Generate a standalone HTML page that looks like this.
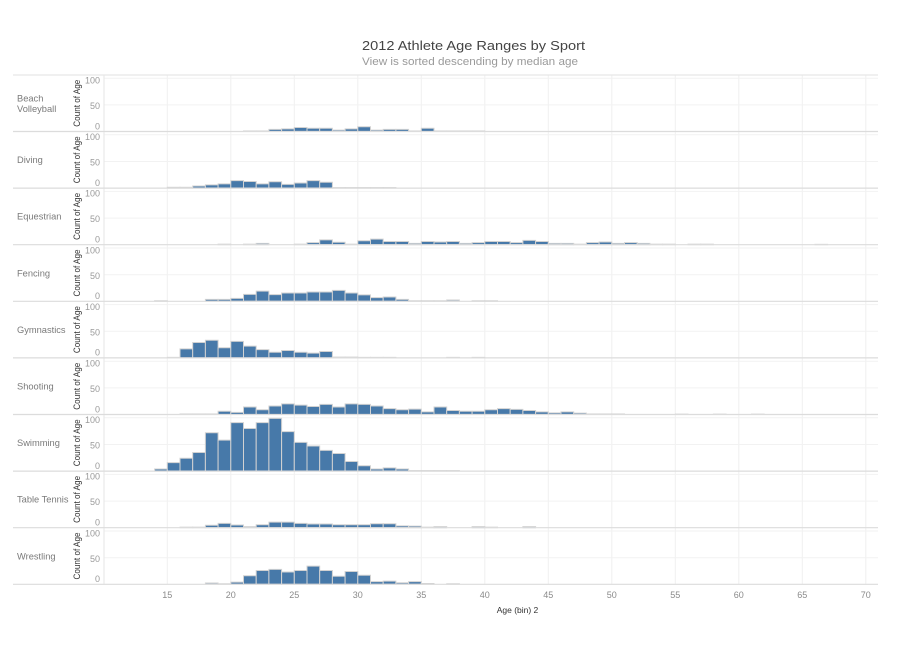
<!DOCTYPE html>
<html>
<head>
<meta charset="utf-8">
<style>
  html,body{margin:0;padding:0;background:#fff;}
  svg{display:block;}
  .b rect{fill:#4779a9;stroke:#d2d2d2;stroke-width:1;vector-effect:non-scaling-stroke;}
  text{font-family:"Liberation Sans",sans-serif;}
  .sp{font-size:9.3px;fill:#7a7a7a;}
  .ca{font-size:8.8px;fill:#333;}
  .yt{font-size:9px;fill:#9a9a9a;text-anchor:end;}
  .xt{font-size:9px;fill:#8a8a8a;text-anchor:middle;}
</style>
</head>
<body>
<svg width="900" height="650" viewBox="0 0 900 650" xmlns="http://www.w3.org/2000/svg">
  <rect width="900" height="650" fill="#fff"/>
  <!-- Title -->
  <text x="362" y="50" font-size="13" fill="#444" textLength="223" lengthAdjust="spacingAndGlyphs">2012 Athlete Age Ranges by Sport</text>
  <text x="362" y="65" font-size="11" fill="#9a9a9a" textLength="216" lengthAdjust="spacingAndGlyphs">View is sorted descending by median age</text>

  <!-- vertical gridlines -->
  <g stroke="#f0f0f0" stroke-width="1">
    <line x1="167.3" y1="75" x2="167.3" y2="584"/>
    <line x1="230.8" y1="75" x2="230.8" y2="584"/>
    <line x1="294.3" y1="75" x2="294.3" y2="584"/>
    <line x1="357.8" y1="75" x2="357.8" y2="584"/>
    <line x1="421.3" y1="75" x2="421.3" y2="584"/>
    <line x1="484.8" y1="75" x2="484.8" y2="584"/>
    <line x1="548.3" y1="75" x2="548.3" y2="584"/>
    <line x1="611.8" y1="75" x2="611.8" y2="584"/>
    <line x1="675.3" y1="75" x2="675.3" y2="584"/>
    <line x1="738.8" y1="75" x2="738.8" y2="584"/>
    <line x1="802.3" y1="75" x2="802.3" y2="584"/>
    <line x1="865.8" y1="75" x2="865.8" y2="584"/>
  </g>
  <!-- horizontal gridlines at 50 & 100 -->
  <g stroke="#f2f2f2" stroke-width="1">
    <line x1="104" x2="878" y1="104.9" y2="104.9"/><line x1="104" x2="878" y1="78.2" y2="78.2"/>
    <line x1="104" x2="878" y1="161.5" y2="161.5"/><line x1="104" x2="878" y1="134.8" y2="134.8"/>
    <line x1="104" x2="878" y1="218.1" y2="218.1"/><line x1="104" x2="878" y1="191.4" y2="191.4"/>
    <line x1="104" x2="878" y1="274.7" y2="274.7"/><line x1="104" x2="878" y1="248.0" y2="248.0"/>
    <line x1="104" x2="878" y1="331.3" y2="331.3"/><line x1="104" x2="878" y1="304.6" y2="304.6"/>
    <line x1="104" x2="878" y1="387.9" y2="387.9"/><line x1="104" x2="878" y1="361.2" y2="361.2"/>
    <line x1="104" x2="878" y1="444.5" y2="444.5"/><line x1="104" x2="878" y1="417.8" y2="417.8"/>
    <line x1="104" x2="878" y1="501.1" y2="501.1"/><line x1="104" x2="878" y1="474.4" y2="474.4"/>
    <line x1="104" x2="878" y1="557.7" y2="557.7"/><line x1="104" x2="878" y1="531.0" y2="531.0"/>
  </g>
  <!-- plot left border -->
  <line x1="104" y1="75" x2="104" y2="584" stroke="#e6e6e6" stroke-width="1"/>

  <!-- Bars -->
  <g class="b" transform="translate(-23.2,131.5) scale(12.7,-0.533)">
    <rect x="21" width="1" height="1"/><rect x="22" width="1" height="1"/><rect x="23" width="1" height="4"/><rect x="24" width="1" height="5"/><rect x="25" width="1" height="7.5"/><rect x="26" width="1" height="6"/><rect x="27" width="1" height="6"/><rect x="28" width="1" height="2.5"/><rect x="29" width="1" height="5"/><rect x="30" width="1" height="9"/><rect x="31" width="1" height="2.5"/><rect x="32" width="1" height="4"/><rect x="33" width="1" height="4"/><rect x="34" width="1" height="1"/><rect x="35" width="1" height="6"/><rect x="36" width="1" height="1"/><rect x="37" width="1" height="1"/><rect x="38" width="1" height="1"/><rect x="39" width="1" height="1"/>
  </g>
  <g class="b" transform="translate(-23.2,188.1) scale(12.7,-0.533)">
    <rect x="15" width="1" height="1.5"/><rect x="16" width="1" height="1.5"/><rect x="17" width="1" height="4"/><rect x="18" width="1" height="6"/><rect x="19" width="1" height="8"/><rect x="20" width="1" height="14"/><rect x="21" width="1" height="12.5"/><rect x="22" width="1" height="8"/><rect x="23" width="1" height="12"/><rect x="24" width="1" height="7"/><rect x="25" width="1" height="9.5"/><rect x="26" width="1" height="14"/><rect x="27" width="1" height="11"/><rect x="28" width="1" height="1"/><rect x="29" width="1" height="1"/><rect x="30" width="1" height="1"/><rect x="31" width="1" height="1"/><rect x="32" width="1" height="1"/>
  </g>
  <g class="b" transform="translate(-23.2,244.7) scale(12.7,-0.533)">
    <rect x="19" width="1" height="1"/><rect x="21" width="1" height="1"/><rect x="22" width="1" height="2.5"/><rect x="25" width="1" height="1"/><rect x="26" width="1" height="4"/><rect x="27" width="1" height="9"/><rect x="28" width="1" height="4.5"/><rect x="29" width="1" height="1"/><rect x="30" width="1" height="7.5"/><rect x="31" width="1" height="10.5"/><rect x="32" width="1" height="6"/><rect x="33" width="1" height="6"/><rect x="34" width="1" height="2.5"/><rect x="35" width="1" height="6"/><rect x="36" width="1" height="5"/><rect x="37" width="1" height="6"/><rect x="38" width="1" height="2.5"/><rect x="39" width="1" height="4"/><rect x="40" width="1" height="6"/><rect x="41" width="1" height="6"/><rect x="42" width="1" height="4"/><rect x="43" width="1" height="8"/><rect x="44" width="1" height="6"/><rect x="45" width="1" height="2.5"/><rect x="46" width="1" height="2.5"/><rect x="47" width="1" height="1"/><rect x="48" width="1" height="4"/><rect x="49" width="1" height="5"/><rect x="50" width="1" height="2.5"/><rect x="51" width="1" height="4"/><rect x="52" width="1" height="2.5"/><rect x="53" width="1" height="1"/><rect x="54" width="1" height="1"/><rect x="56" width="1" height="1"/><rect x="57" width="1" height="1"/><rect x="66" width="1" height="0.7"/>
  </g>
  <g class="b" transform="translate(-23.2,301.3) scale(12.7,-0.533)">
    <rect x="14" width="1" height="1"/><rect x="18" width="1" height="3.5"/><rect x="19" width="1" height="3.5"/><rect x="20" width="1" height="5.5"/><rect x="21" width="1" height="13"/><rect x="22" width="1" height="19"/><rect x="23" width="1" height="12.5"/><rect x="24" width="1" height="15.5"/><rect x="25" width="1" height="15.5"/><rect x="26" width="1" height="17.5"/><rect x="27" width="1" height="17.5"/><rect x="28" width="1" height="20.5"/><rect x="29" width="1" height="15.5"/><rect x="30" width="1" height="12"/><rect x="31" width="1" height="7"/><rect x="32" width="1" height="8"/><rect x="33" width="1" height="3.5"/><rect x="34" width="1" height="1"/><rect x="35" width="1" height="1"/><rect x="36" width="1" height="1"/><rect x="37" width="1" height="2.5"/><rect x="39" width="1" height="1"/><rect x="40" width="1" height="1"/>
  </g>
  <g class="b" transform="translate(-23.2,357.9) scale(12.7,-0.533)">
    <rect x="15" width="1" height="1"/><rect x="16" width="1" height="17"/><rect x="17" width="1" height="29"/><rect x="18" width="1" height="33"/><rect x="19" width="1" height="19"/><rect x="20" width="1" height="31"/><rect x="21" width="1" height="22"/><rect x="22" width="1" height="15.5"/><rect x="23" width="1" height="10.5"/><rect x="24" width="1" height="14"/><rect x="25" width="1" height="10.5"/><rect x="26" width="1" height="9"/><rect x="27" width="1" height="12"/><rect x="28" width="1" height="1.5"/><rect x="29" width="1" height="1.5"/><rect x="30" width="1" height="1"/><rect x="31" width="1" height="1"/><rect x="32" width="1" height="1"/><rect x="37" width="1" height="1"/><rect x="39" width="1" height="1"/>
  </g>
  <g class="b" transform="translate(-23.2,414.5) scale(12.7,-0.533)">
    <rect x="16" width="1" height="1"/><rect x="17" width="1" height="1"/><rect x="18" width="1" height="1"/><rect x="19" width="1" height="6"/><rect x="20" width="1" height="4"/><rect x="21" width="1" height="14"/><rect x="22" width="1" height="9"/><rect x="23" width="1" height="16"/><rect x="24" width="1" height="20"/><rect x="25" width="1" height="17.5"/><rect x="26" width="1" height="15"/><rect x="27" width="1" height="19"/><rect x="28" width="1" height="14"/><rect x="29" width="1" height="20"/><rect x="30" width="1" height="19"/><rect x="31" width="1" height="16"/><rect x="32" width="1" height="11"/><rect x="33" width="1" height="9"/><rect x="34" width="1" height="10"/><rect x="35" width="1" height="5"/><rect x="36" width="1" height="14"/><rect x="37" width="1" height="7.5"/><rect x="38" width="1" height="6"/><rect x="39" width="1" height="6"/><rect x="40" width="1" height="9"/><rect x="41" width="1" height="11"/><rect x="42" width="1" height="9.5"/><rect x="43" width="1" height="7.5"/><rect x="44" width="1" height="5"/><rect x="45" width="1" height="3"/><rect x="46" width="1" height="5"/><rect x="47" width="1" height="2.5"/><rect x="48" width="1" height="1"/><rect x="49" width="1" height="1"/><rect x="50" width="1" height="1"/><rect x="55" width="1" height="0.7"/><rect x="58" width="1" height="0.7"/><rect x="61" width="1" height="0.7"/>
  </g>
  <g class="b" transform="translate(-23.2,471.1) scale(12.7,-0.533)">
    <rect x="14" width="1" height="4"/><rect x="15" width="1" height="16"/><rect x="16" width="1" height="24"/><rect x="17" width="1" height="35"/><rect x="18" width="1" height="72"/><rect x="19" width="1" height="58"/><rect x="20" width="1" height="91"/><rect x="21" width="1" height="80"/><rect x="22" width="1" height="91"/><rect x="23" width="1" height="99"/><rect x="24" width="1" height="74"/><rect x="25" width="1" height="54"/><rect x="26" width="1" height="47"/><rect x="27" width="1" height="39"/><rect x="28" width="1" height="33"/><rect x="29" width="1" height="18"/><rect x="30" width="1" height="10"/><rect x="31" width="1" height="4"/><rect x="32" width="1" height="6"/><rect x="33" width="1" height="4"/><rect x="34" width="1" height="1"/><rect x="35" width="1" height="1"/><rect x="36" width="1" height="1"/><rect x="37" width="1" height="1"/>
  </g>
  <g class="b" transform="translate(-23.2,527.7) scale(12.7,-0.533)">
    <rect x="16" width="1" height="1"/><rect x="17" width="1" height="1"/><rect x="18" width="1" height="4.5"/><rect x="19" width="1" height="8"/><rect x="20" width="1" height="5"/><rect x="21" width="1" height="2"/><rect x="22" width="1" height="5.5"/><rect x="23" width="1" height="10.5"/><rect x="24" width="1" height="10.5"/><rect x="25" width="1" height="8"/><rect x="26" width="1" height="7"/><rect x="27" width="1" height="7"/><rect x="28" width="1" height="5.5"/><rect x="29" width="1" height="5.5"/><rect x="30" width="1" height="5.5"/><rect x="31" width="1" height="7.5"/><rect x="32" width="1" height="7.5"/><rect x="33" width="1" height="3.5"/><rect x="34" width="1" height="3"/><rect x="35" width="1" height="1"/><rect x="36" width="1" height="2"/><rect x="39" width="1" height="2"/><rect x="40" width="1" height="1"/><rect x="43" width="1" height="2"/>
  </g>
  <g class="b" transform="translate(-23.2,584.3) scale(12.7,-0.533)">
    <rect x="18" width="1" height="2.5"/><rect x="19" width="1" height="1"/><rect x="20" width="1" height="4"/><rect x="21" width="1" height="16"/><rect x="22" width="1" height="26"/><rect x="23" width="1" height="28"/><rect x="24" width="1" height="23"/><rect x="25" width="1" height="26"/><rect x="26" width="1" height="34"/><rect x="27" width="1" height="26"/><rect x="28" width="1" height="15"/><rect x="29" width="1" height="24"/><rect x="30" width="1" height="17"/><rect x="31" width="1" height="5"/><rect x="32" width="1" height="6"/><rect x="33" width="1" height="3"/><rect x="34" width="1" height="5"/><rect x="35" width="1" height="1.5"/><rect x="37" width="1" height="1"/>
  </g>

  <!-- Row separators -->
  <g stroke="#dcdcdc" stroke-width="1.2">
    <line x1="13" x2="878" y1="75" y2="75" stroke="#e6e6e6"/>
    <line x1="13" x2="878" y1="131.5" y2="131.5"/>
    <line x1="13" x2="878" y1="188.1" y2="188.1"/>
    <line x1="13" x2="878" y1="244.7" y2="244.7"/>
    <line x1="13" x2="878" y1="301.3" y2="301.3"/>
    <line x1="13" x2="878" y1="357.9" y2="357.9"/>
    <line x1="13" x2="878" y1="414.5" y2="414.5"/>
    <line x1="13" x2="878" y1="471.1" y2="471.1"/>
    <line x1="13" x2="878" y1="527.7" y2="527.7"/>
    <line x1="13" x2="878" y1="584.3" y2="584.3"/>
  </g>

  <!-- Sport labels -->
  <text class="sp" x="17" y="101.5">Beach</text>
  <text class="sp" x="17" y="112">Volleyball</text>
  <text class="sp" x="17" y="163.1">Diving</text>
  <text class="sp" x="17" y="219.7">Equestrian</text>
  <text class="sp" x="17" y="276.3">Fencing</text>
  <text class="sp" x="17" y="332.9">Gymnastics</text>
  <text class="sp" x="17" y="389.5">Shooting</text>
  <text class="sp" x="17" y="446.1">Swimming</text>
  <text class="sp" x="17" y="502.7">Table Tennis</text>
  <text class="sp" x="17" y="559.3">Wrestling</text>

  <!-- Count of Age axis titles -->
  <text class="ca" transform="translate(80,103.2) rotate(-90)" text-anchor="middle" textLength="47" lengthAdjust="spacingAndGlyphs">Count of Age</text>
  <text class="ca" transform="translate(80,159.8) rotate(-90)" text-anchor="middle" textLength="47" lengthAdjust="spacingAndGlyphs">Count of Age</text>
  <text class="ca" transform="translate(80,216.4) rotate(-90)" text-anchor="middle" textLength="47" lengthAdjust="spacingAndGlyphs">Count of Age</text>
  <text class="ca" transform="translate(80,273.0) rotate(-90)" text-anchor="middle" textLength="47" lengthAdjust="spacingAndGlyphs">Count of Age</text>
  <text class="ca" transform="translate(80,329.6) rotate(-90)" text-anchor="middle" textLength="47" lengthAdjust="spacingAndGlyphs">Count of Age</text>
  <text class="ca" transform="translate(80,386.2) rotate(-90)" text-anchor="middle" textLength="47" lengthAdjust="spacingAndGlyphs">Count of Age</text>
  <text class="ca" transform="translate(80,442.8) rotate(-90)" text-anchor="middle" textLength="47" lengthAdjust="spacingAndGlyphs">Count of Age</text>
  <text class="ca" transform="translate(80,499.4) rotate(-90)" text-anchor="middle" textLength="47" lengthAdjust="spacingAndGlyphs">Count of Age</text>
  <text class="ca" transform="translate(80,556.0) rotate(-90)" text-anchor="middle" textLength="47" lengthAdjust="spacingAndGlyphs">Count of Age</text>

  <!-- Y tick labels -->
  <g class="yt">
    <text x="100" y="83.5">100</text><text x="100" y="109">50</text><text x="100" y="129.3">0</text>
    <text x="100" y="140.1">100</text><text x="100" y="165.6">50</text><text x="100" y="185.9">0</text>
    <text x="100" y="196.7">100</text><text x="100" y="222.2">50</text><text x="100" y="242.5">0</text>
    <text x="100" y="253.3">100</text><text x="100" y="278.8">50</text><text x="100" y="299.1">0</text>
    <text x="100" y="309.9">100</text><text x="100" y="335.4">50</text><text x="100" y="355.7">0</text>
    <text x="100" y="366.5">100</text><text x="100" y="392.0">50</text><text x="100" y="412.3">0</text>
    <text x="100" y="423.1">100</text><text x="100" y="448.6">50</text><text x="100" y="468.9">0</text>
    <text x="100" y="479.7">100</text><text x="100" y="505.2">50</text><text x="100" y="525.5">0</text>
    <text x="100" y="536.3">100</text><text x="100" y="561.8">50</text><text x="100" y="582.1">0</text>
  </g>

  <!-- X tick labels -->
  <g class="xt">
    <text x="167.3" y="598">15</text>
    <text x="230.8" y="598">20</text>
    <text x="294.3" y="598">25</text>
    <text x="357.8" y="598">30</text>
    <text x="421.3" y="598">35</text>
    <text x="484.8" y="598">40</text>
    <text x="548.3" y="598">45</text>
    <text x="611.8" y="598">50</text>
    <text x="675.3" y="598">55</text>
    <text x="738.8" y="598">60</text>
    <text x="802.3" y="598">65</text>
    <text x="865.8" y="598">70</text>
  </g>
  <text x="517.5" y="613" font-size="8.5" fill="#333" text-anchor="middle">Age (bin) 2</text>
</svg>
</body>
</html>
